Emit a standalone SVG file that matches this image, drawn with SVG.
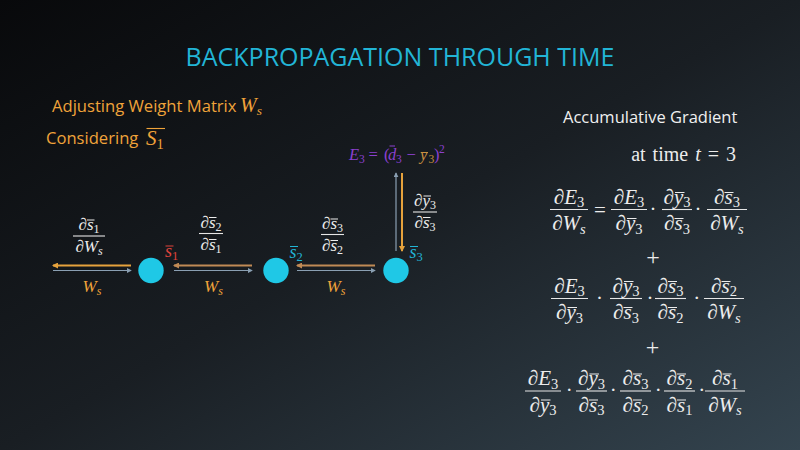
<svg xmlns="http://www.w3.org/2000/svg" width="800" height="450" viewBox="0 0 800 450">
<defs>
<linearGradient id="bg" x1="0" y1="0" x2="1" y2="1">
<stop offset="0" stop-color="#08090b"/>
<stop offset="0.5" stop-color="#191e23"/>
<stop offset="1" stop-color="#34444f"/>
</linearGradient>
<marker id="ao" viewBox="0 0 6 6" refX="5" refY="3" markerWidth="6" markerHeight="6" markerUnits="userSpaceOnUse" orient="auto"><path d="M0,0 L6,3 L0,6 z" fill="#e6a23c"/></marker>
<marker id="ab" viewBox="0 0 6 6" refX="5" refY="3" markerWidth="6" markerHeight="6" markerUnits="userSpaceOnUse" orient="auto"><path d="M0,0 L6,3 L0,6 z" fill="#c08a55"/></marker>
<marker id="ag" viewBox="0 0 6 6" refX="5" refY="3" markerWidth="5" markerHeight="5" markerUnits="userSpaceOnUse" orient="auto"><path d="M0,0 L6,3 L0,6 z" fill="#8a9fb2"/></marker>
<style>
.sans{font-family:"Open Sans","Noto Sans",sans-serif}
.m{font-family:"Liberation Serif","Times New Roman",serif;font-style:italic;fill:#ececec;font-size:21px}
.ms{font-size:17px}
.up{font-style:normal}
.sb{font-size:14.5px;font-style:normal}
.sbs{font-size:12px;font-style:normal}
.si{font-style:italic}
.bar{stroke:#e6e6e6;stroke-width:1.1}
.ov{stroke:#ececec;stroke-width:1}
.go{stroke:#e6a23c;stroke-width:2;fill:none}
.bo{stroke:#c08a55;stroke-width:2;fill:none}
.gl{stroke:#8a9fb2;stroke-width:1.2;fill:none}
.node{fill:#1fc8e6}
.or{fill:#f0a33a}
</style>
</defs>
<rect x="0" y="0" width="800" height="450" fill="url(#bg)"/>

<text x="400" y="66" text-anchor="middle" class="sans" font-size="25" fill="#22b5d6">BACKPROPAGATION THROUGH TIME</text>

<g id="left-labels">
<text x="52" y="111.5" class="sans or" font-size="16.6">Adjusting Weight Matrix</text>
<text x="240" y="111.5" class="m or" style="font-size:20px">W<tspan style="font-size:13.5px" dy="3">s</tspan></text>
<text x="46" y="143.5" class="sans or" font-size="16.6">Considering</text>
<text x="146" y="145" class="m or" style="font-size:21px">S<tspan class="sb" dy="4">1</tspan></text>
<line x1="146.5" y1="128.5" x2="165" y2="128.5" stroke="#f0a33a" stroke-width="1.1"/>
</g>

<g id="connectors">
<line x1="131" y1="265.5" x2="53" y2="265.5" class="go" marker-end="url(#ao)"/>
<line x1="53" y1="270.5" x2="131" y2="270.5" class="gl" marker-end="url(#ag)"/>
<line x1="252" y1="265.5" x2="174" y2="265.5" class="bo" marker-end="url(#ab)"/>
<line x1="174" y1="270.5" x2="252" y2="270.5" class="gl" marker-end="url(#ag)"/>
<line x1="375" y1="265.5" x2="297" y2="265.5" class="bo" marker-end="url(#ab)"/>
<line x1="297" y1="270.5" x2="375" y2="270.5" class="gl" marker-end="url(#ag)"/>
<line x1="396" y1="251" x2="396" y2="173" class="gl" marker-end="url(#ag)"/>
<line x1="402" y1="173" x2="402" y2="251" class="go" marker-end="url(#ao)"/>
</g>

<g id="node-s1">
<circle cx="151" cy="270.5" r="12.7" class="node"/>
<text x="165" y="257" class="m" style="font-size:18px;fill:#e0443c">s<tspan dy="3" style="font-size:12.5px;font-style:normal">1</tspan></text>
<line x1="165.5" y1="246" x2="173.5" y2="246" stroke="#e0443c" stroke-width="1"/>
</g>
<g id="node-s2">
<circle cx="276" cy="270.5" r="12.7" class="node"/>
<text x="289.5" y="257.5" class="m" style="font-size:18px;fill:#22b5d6">s<tspan dy="3" style="font-size:12.5px;font-style:normal">2</tspan></text>
<line x1="290" y1="246.5" x2="298" y2="246.5" stroke="#22b5d6" stroke-width="1"/>
</g>
<g id="node-s3">
<circle cx="396" cy="270.5" r="12.7" class="node"/>
<text x="409.5" y="257.5" class="m" style="font-size:18px;fill:#22b5d6">s<tspan dy="3" style="font-size:12.5px;font-style:normal">3</tspan></text>
<line x1="410" y1="246.5" x2="418" y2="246.5" stroke="#22b5d6" stroke-width="1"/>
</g>

<g id="error-label" class="m" style="font-size:16.5px;fill:#8b40cf">
<text y="160"><tspan x="349">E</tspan><tspan x="359" dy="2.5" class="up" style="font-size:11.5px">3</tspan><tspan x="368.5" dy="-2.5" class="up">=</tspan><tspan x="384" class="up">(</tspan><tspan x="388">d</tspan><tspan x="396" dy="2.5" class="up" style="font-size:11.5px">3</tspan><tspan x="406.5" dy="-2.5" class="up">−</tspan><tspan x="420" style="fill:#c89040">y</tspan><tspan x="428.5" dy="2.5" class="up" style="font-size:11.5px;fill:#c89040">3</tspan><tspan x="434" dy="-2.5" class="up">)</tspan><tspan x="439" dy="-7" class="up" style="font-size:11.5px">2</tspan></text>
<line x1="389.5" y1="146" x2="395" y2="146" stroke="#8b40cf" stroke-width="1"/>
<line x1="421" y1="152.5" x2="428" y2="152.5" stroke="#c89040" stroke-width="1"/>
</g>

<g id="left-fractions" class="m ms">
<g id="f-s1-ws">
<text x="89" y="230" text-anchor="middle">∂s<tspan class="sbs" dy="3">1</tspan></text>
<line x1="73" y1="236" x2="105" y2="236" class="bar"/>
<text x="89" y="252" text-anchor="middle">∂W<tspan class="sbs si" dy="3">s</tspan></text>
<line x1="87" y1="220" x2="94.5" y2="220" class="ov"/>
</g>
<g id="f-s2-s1">
<text x="211" y="227.5" text-anchor="middle">∂s<tspan class="sbs" dy="3">2</tspan></text>
<line x1="199" y1="233.5" x2="223" y2="233.5" class="bar"/>
<text x="211" y="249.5" text-anchor="middle">∂s<tspan class="sbs" dy="3">1</tspan></text>
<line x1="209" y1="217.5" x2="216.5" y2="217.5" class="ov"/>
<line x1="209" y1="239.5" x2="216.5" y2="239.5" class="ov"/>
</g>
<g id="f-s3-s2">
<text x="332.5" y="229" text-anchor="middle">∂s<tspan class="sbs" dy="3">3</tspan></text>
<line x1="321" y1="234.5" x2="344" y2="234.5" class="bar"/>
<text x="332.5" y="250.5" text-anchor="middle">∂s<tspan class="sbs" dy="3">2</tspan></text>
<line x1="330.5" y1="219" x2="338" y2="219" class="ov"/>
<line x1="330.5" y1="240.5" x2="338" y2="240.5" class="ov"/>
</g>
<g id="f-y3-s3">
<text x="425" y="206" text-anchor="middle">∂y<tspan class="sbs" dy="3">3</tspan></text>
<line x1="413" y1="212" x2="437" y2="212" class="bar"/>
<text x="425" y="227.5" text-anchor="middle">∂s<tspan class="sbs" dy="3">3</tspan></text>
<line x1="423.5" y1="196" x2="431" y2="196" class="ov"/>
<line x1="423" y1="217.5" x2="430.5" y2="217.5" class="ov"/>
</g>
<g id="ws-labels" style="fill:#f0a33a">
<text x="92" y="292" text-anchor="middle">W<tspan class="sbs si" dy="3">s</tspan></text>
<text x="213.5" y="292" text-anchor="middle">W<tspan class="sbs si" dy="3">s</tspan></text>
<text x="336" y="291.5" text-anchor="middle">W<tspan class="sbs si" dy="3">s</tspan></text>
</g>
</g>

<g id="right-header">
<text x="563" y="123" class="sans" font-size="16.5" fill="#f0f0f0">Accumulative Gradient</text>
<text x="736" y="161" text-anchor="end" class="m up" style="font-size:20px;font-style:normal" word-spacing="2">at time <tspan style="font-style:italic">t</tspan> = 3</text>
</g>

<g id="eq1" class="m">
<text x="569" y="203.5" text-anchor="middle">∂E<tspan class="sb" dy="3.5">3</tspan></text>
<line x1="550" y1="209.5" x2="588" y2="209.5" class="bar"/>
<text x="569" y="230" text-anchor="middle">∂W<tspan class="sb si" dy="3.5">s</tspan></text>
<text x="600" y="216.5" text-anchor="middle" class="up">=</text>
<text x="629" y="203.5" text-anchor="middle">∂E<tspan class="sb" dy="3.5">3</tspan></text>
<line x1="611" y1="209.5" x2="647" y2="209.5" class="bar"/>
<text x="629" y="230" text-anchor="middle">∂y<tspan class="sb" dy="3.5">3</tspan></text>
<line x1="627" y1="218.5" x2="636.5" y2="218.5" class="ov"/>
<text x="653" y="215.5" text-anchor="middle" class="up">·</text>
<text x="677" y="203.5" text-anchor="middle">∂y<tspan class="sb" dy="3.5">3</tspan></text>
<line x1="662" y1="209.5" x2="692" y2="209.5" class="bar"/>
<text x="677" y="230" text-anchor="middle">∂s<tspan class="sb" dy="3.5">3</tspan></text>
<line x1="675" y1="192.5" x2="684.5" y2="192.5" class="ov"/>
<line x1="674.5" y1="218.5" x2="683.5" y2="218.5" class="ov"/>
<text x="698" y="215.5" text-anchor="middle" class="up">·</text>
<text x="727" y="203.5" text-anchor="middle">∂s<tspan class="sb" dy="3.5">3</tspan></text>
<line x1="707" y1="209.5" x2="747" y2="209.5" class="bar"/>
<text x="727" y="230" text-anchor="middle">∂W<tspan class="sb si" dy="3.5">s</tspan></text>
<line x1="724.5" y1="192.5" x2="733.5" y2="192.5" class="ov"/>
</g>

<text x="653" y="265" text-anchor="middle" class="m up" style="font-size:24px;font-style:normal">+</text>

<g id="eq2" class="m">
<text x="569.5" y="292.5" text-anchor="middle">∂E<tspan class="sb" dy="3.5">3</tspan></text>
<line x1="551" y1="298.5" x2="588" y2="298.5" class="bar"/>
<text x="569.5" y="319" text-anchor="middle">∂y<tspan class="sb" dy="3.5">3</tspan></text>
<line x1="567.5" y1="307.5" x2="577" y2="307.5" class="ov"/>
<text x="599.5" y="304.5" text-anchor="middle" class="up">·</text>
<text x="626" y="292.5" text-anchor="middle">∂y<tspan class="sb" dy="3.5">3</tspan></text>
<line x1="610" y1="298.5" x2="642" y2="298.5" class="bar"/>
<text x="626" y="319" text-anchor="middle">∂s<tspan class="sb" dy="3.5">3</tspan></text>
<line x1="624" y1="281.5" x2="633.5" y2="281.5" class="ov"/>
<line x1="623.5" y1="307.5" x2="632.5" y2="307.5" class="ov"/>
<text x="650" y="304.5" text-anchor="middle" class="up">·</text>
<text x="670.5" y="292.5" text-anchor="middle">∂s<tspan class="sb" dy="3.5">3</tspan></text>
<line x1="655" y1="298.5" x2="686" y2="298.5" class="bar"/>
<text x="670.5" y="319" text-anchor="middle">∂s<tspan class="sb" dy="3.5">2</tspan></text>
<line x1="668" y1="281.5" x2="677" y2="281.5" class="ov"/>
<line x1="668" y1="307.5" x2="677" y2="307.5" class="ov"/>
<text x="696.7" y="304.5" text-anchor="middle" class="up">·</text>
<text x="724" y="292.5" text-anchor="middle">∂s<tspan class="sb" dy="3.5">2</tspan></text>
<line x1="704" y1="298.5" x2="744" y2="298.5" class="bar"/>
<text x="724" y="319" text-anchor="middle">∂W<tspan class="sb si" dy="3.5">s</tspan></text>
<line x1="721.5" y1="281.5" x2="730.5" y2="281.5" class="ov"/>
</g>

<text x="652.5" y="355" text-anchor="middle" class="m up" style="font-size:24px;font-style:normal">+</text>

<g id="eq3" class="m">
<text x="543" y="385" text-anchor="middle">∂E<tspan class="sb" dy="3.5">3</tspan></text>
<line x1="525" y1="391" x2="561" y2="391" class="bar"/>
<text x="543" y="411.5" text-anchor="middle">∂y<tspan class="sb" dy="3.5">3</tspan></text>
<line x1="541" y1="400" x2="550.5" y2="400" class="ov"/>
<text x="569.3" y="397" text-anchor="middle" class="up">·</text>
<text x="591.5" y="385" text-anchor="middle">∂y<tspan class="sb" dy="3.5">3</tspan></text>
<line x1="576" y1="391" x2="607" y2="391" class="bar"/>
<text x="591.5" y="411.5" text-anchor="middle">∂s<tspan class="sb" dy="3.5">3</tspan></text>
<line x1="589.5" y1="374" x2="599" y2="374" class="ov"/>
<line x1="589" y1="400" x2="598" y2="400" class="ov"/>
<text x="613.3" y="397" text-anchor="middle" class="up">·</text>
<text x="635.5" y="385" text-anchor="middle">∂s<tspan class="sb" dy="3.5">3</tspan></text>
<line x1="620" y1="391" x2="651" y2="391" class="bar"/>
<text x="635.5" y="411.5" text-anchor="middle">∂s<tspan class="sb" dy="3.5">2</tspan></text>
<line x1="633" y1="374" x2="642" y2="374" class="ov"/>
<line x1="633" y1="400" x2="642" y2="400" class="ov"/>
<text x="658.3" y="397" text-anchor="middle" class="up">·</text>
<text x="679.5" y="385" text-anchor="middle">∂s<tspan class="sb" dy="3.5">2</tspan></text>
<line x1="664" y1="391" x2="695" y2="391" class="bar"/>
<text x="679.5" y="411.5" text-anchor="middle">∂s<tspan class="sb" dy="3.5">1</tspan></text>
<line x1="677" y1="374" x2="686" y2="374" class="ov"/>
<line x1="677" y1="400" x2="686" y2="400" class="ov"/>
<text x="701.7" y="397" text-anchor="middle" class="up">·</text>
<text x="725" y="385" text-anchor="middle">∂s<tspan class="sb" dy="3.5">1</tspan></text>
<line x1="705" y1="391" x2="745" y2="391" class="bar"/>
<text x="725" y="411.5" text-anchor="middle">∂W<tspan class="sb si" dy="3.5">s</tspan></text>
<line x1="722.5" y1="374" x2="731.5" y2="374" class="ov"/>
</g>
</svg>
